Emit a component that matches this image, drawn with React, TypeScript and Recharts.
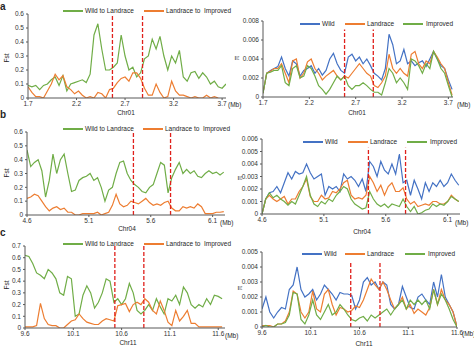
import React from "react";
import { LineChart, Line, XAxis, YAxis, ReferenceLine } from "recharts";

// ---------- colours ----------
const GREEN = "#70AD47";
const ORANGE = "#ED7D31";
const BLUE = "#4472C4";
const RED = "#E0201B";

// ---------- panel a (Chr01) ----------
const aStart = 1.7;
const aStep = 0.04;
const aXTicks = [1.7, 2.2, 2.7, 3.2, 3.7];
const aFstTicks = [0, 0.1, 0.2, 0.3, 0.4, 0.5, 0.6];
const aPiTicks = [0, 0.002, 0.004, 0.006, 0.008];
const aCutsFst = [2.57, 2.88];
const aCutsPi = [2.58, 2.89];
const aFstWildLand = [0.09, 0.08, 0.09, 0.06, 0.09, 0.10, 0.13, 0.15, 0.09, 0.16, 0.05, 0.10, 0.11, 0.12, 0.13, 0.11, 0.17, 0.45, 0.53, 0.35, 0.20, 0.20, 0.22, 0.25, 0.45, 0.30, 0.20, 0.22, 0.15, 0.18, 0.28, 0.30, 0.42, 0.35, 0.44, 0.30, 0.20, 0.30, 0.25, 0.34, 0.15, 0.12, 0.18, 0.19, 0.14, 0.18, 0.15, 0.10, 0.12, 0.08, 0.07, 0.10];
const aFstLandImp = [0.08, 0.04, 0.01, 0.01, 0.0, 0.05, 0.10, 0.17, 0.13, 0.16, 0.08, 0.06, 0.03, 0.05, 0.02, 0.0, 0.01, 0.0, 0.04, 0.03, 0.0, 0.06, 0.07, 0.11, 0.14, 0.15, 0.12, 0.18, 0.18, 0.14, 0.07, 0.02, 0.02, 0.10, 0.04, 0.0, 0.01, 0.12, 0.05, 0.02, 0.02, 0.01, 0.0, 0.01, 0.0, 0.0, 0.02, 0.0, 0.01, 0.0, null, null];
const aPiWild = [0.0004, 0.0025, 0.0028, 0.003, 0.0032, 0.0042, 0.003, 0.0022, 0.0038, 0.0035, 0.0022, 0.0028, 0.003, 0.0033, 0.0025, 0.003, 0.0023, 0.0028, 0.004, 0.0046, 0.0035, 0.0028, 0.0025, 0.0042, 0.0045, 0.0038, 0.0042, 0.0035, 0.004, 0.0033, 0.0025, 0.0022, 0.0018, 0.003, 0.0066, 0.0055, 0.0035, 0.0038, 0.005, 0.0035, 0.0038, 0.0033, 0.0036, 0.0038, 0.0032, 0.004, 0.0048, 0.004, 0.0033, 0.003, 0.0018, 0.0008];
const aPiLand = [0.0004, 0.0025, 0.0027, 0.003, 0.003, 0.0035, 0.0025, 0.0015, 0.0038, 0.004, 0.002, 0.0025, 0.0037, 0.004, 0.003, 0.0025, 0.0018, 0.0022, 0.0025, 0.0028, 0.0022, 0.0018, 0.0022, 0.002, 0.0025, 0.003, 0.0035, 0.003, 0.0025, 0.0022, 0.0012, 0.001, 0.0015, 0.0022, 0.0045, 0.003, 0.0025, 0.003, 0.0025, 0.0022, 0.0045, 0.0048, 0.0035, 0.003, 0.0038, 0.0035, 0.0048, 0.0042, 0.0035, 0.003, 0.0015, 0.0002];
const aPiImp = [0.0004, 0.0025, 0.0026, 0.0028, 0.0028, 0.0033, 0.0015, 0.0012, 0.003, 0.0033, 0.002, 0.0022, 0.0033, 0.003, 0.0022, 0.0012, 0.0008, 0.0003, 0.0008, 0.0015, 0.0022, 0.0018, 0.0022, 0.0012, 0.0008, 0.0012, 0.0012, 0.0015, 0.0012, 0.0008, 0.0005, 0.0005, 0.0002, 0.0015, 0.003, 0.0025, 0.0015, 0.002, 0.0015, 0.0008, 0.004, 0.0038, 0.0033, 0.0025, 0.0035, 0.003, 0.0048, 0.004, 0.003, 0.0025, 0.0012, 0.0];

// ---------- panel b (Chr04) ----------
const bStart = 4.6;
const bStep = 0.03;
const bXTicks = [4.6, 5.1, 5.6, 6.1];
const bFstTicks = [0, 0.1, 0.2, 0.3, 0.4, 0.5, 0.6];
const bPiTicks = [0, 0.001, 0.002, 0.003, 0.004, 0.005, 0.006];
const bCuts = [5.46, 5.76];
const bFstWildLand = [0.47, 0.35, 0.38, 0.40, 0.32, 0.13, 0.25, 0.44, 0.30, 0.40, 0.44, 0.30, 0.17, 0.18, 0.25, 0.27, 0.28, 0.30, 0.25, 0.27, 0.20, 0.10, 0.18, 0.20, 0.30, 0.38, 0.39, 0.30, 0.25, 0.22, 0.20, 0.17, 0.16, 0.20, 0.22, 0.30, 0.38, 0.36, 0.16, 0.27, 0.33, 0.38, 0.30, 0.33, 0.30, 0.32, 0.28, 0.27, 0.30, 0.32, 0.30, 0.31, 0.29, 0.31];
const bFstLandImp = [0.12, 0.13, 0.15, 0.14, 0.10, 0.06, 0.03, 0.05, 0.06, 0.04, 0.05, 0.02, 0.02, 0.0, 0.0, 0.01, 0.01, 0.01, 0.01, 0.02, 0.0, 0.01, 0.02, 0.07, 0.15, 0.08, 0.06, 0.07, 0.10, 0.09, 0.08, 0.10, 0.12, 0.09, 0.07, 0.08, 0.07, 0.09, 0.10, 0.05, 0.03, 0.03, 0.06, 0.05, 0.06, 0.05, 0.08, 0.06, 0.01, 0.01, 0.01, 0.02, 0.02, 0.025];
const bPiWild = [0.0, 0.0012, 0.0017, 0.0018, 0.0022, 0.0017, 0.0025, 0.0033, 0.0028, 0.0034, 0.0032, 0.0033, 0.004, 0.0033, 0.0028, 0.003, 0.0032, 0.0015, 0.0022, 0.002, 0.0022, 0.0018, 0.0032, 0.0028, 0.003, 0.0027, 0.0022, 0.0028, 0.0018, 0.0042, 0.0038, 0.003, 0.0042, 0.0035, 0.0032, 0.004, 0.0032, 0.0048, 0.0025, 0.0027, 0.0015, 0.0027, 0.002, 0.0012, 0.0025, 0.0018, 0.0025, 0.0022, 0.0027, 0.0022, 0.0025, 0.0032, 0.0027, 0.0023];
const bPiLand = [0.0, 0.0012, 0.0015, 0.0012, 0.001, 0.0012, 0.0014, 0.0008, 0.0012, 0.0012, 0.0018, 0.0022, 0.0028, 0.0014, 0.001, 0.001, 0.0015, 0.0012, 0.0013, 0.0018, 0.0017, 0.002, 0.0025, 0.0027, 0.0015, 0.0012, 0.0013, 0.0012, 0.0015, 0.003, 0.0025, 0.0018, 0.0023, 0.0015, 0.0022, 0.0025, 0.0018, 0.0018, 0.0021, 0.0012, 0.0008, 0.001, 0.0006, 0.0007, 0.0008, 0.0007, 0.001, 0.001, 0.0008, 0.0008, 0.001, 0.0015, 0.0012, 0.001];
const bPiImp = [0.0, 0.0012, 0.0017, 0.0013, 0.0015, 0.0012, 0.001, 0.0007, 0.001, 0.0008, 0.0015, 0.0022, 0.003, 0.0015, 0.0008, 0.0006, 0.001, 0.0008, 0.0012, 0.001, 0.0015, 0.0018, 0.0022, 0.002, 0.0012, 0.0008, 0.0006, 0.0004, 0.0005, 0.0018, 0.0012, 0.0008, 0.0006, 0.0008, 0.0005, 0.0008, 0.0007, 0.0006, 0.0012, 0.0006, 0.0002, 0.0006, 0.0, 0.0001, 0.0003, 0.0004, 0.0008, 0.0006, 0.0008, 0.0007, 0.001, 0.0014, 0.0012, 0.001];

// ---------- panel c (Chr11) ----------
const cStart = 9.6;
const cStep = 0.04;
const cXTicks = [9.6, 10.1, 10.6, 11.1, 11.6];
const cFstTicks = [0, 0.1, 0.2, 0.3, 0.4, 0.5, 0.6, 0.7];
const cPiTicks = [0, 0.001, 0.002, 0.003, 0.004, 0.005];
const cCutsFst = [10.53, 10.83];
const cCutsPi = [10.51, 10.81];
const cFstWildLand = [0.62, 0.61, 0.55, 0.47, 0.45, 0.42, 0.50, 0.47, 0.42, 0.30, 0.28, 0.44, 0.42, 0.10, 0.12, 0.28, 0.36, 0.30, 0.17, 0.22, 0.30, 0.42, 0.40, 0.22, 0.25, 0.20, 0.25, 0.38, 0.30, 0.15, 0.12, 0.15, 0.20, 0.15, 0.25, 0.18, 0.12, 0.25, 0.23, 0.28, 0.20, 0.35, 0.30, 0.20, 0.17, 0.20, 0.18, 0.25, 0.20, 0.28, 0.27, 0.25];
const cFstLandImp = [0.01, 0.01, 0.01, 0.02, 0.21, 0.08, 0.03, 0.02, 0.02, 0.0, 0.0, 0.03, 0.06, 0.07, 0.12, 0.08, 0.05, 0.04, 0.03, 0.03, 0.06, 0.08, 0.07, 0.06, 0.19, 0.20, 0.21, 0.14, 0.20, 0.22, 0.20, 0.25, 0.22, 0.15, 0.12, 0.23, 0.15, 0.05, 0.02, 0.15, 0.06, 0.10, 0.15, 0.04, 0.04, 0.01, 0.01, 0.01, 0.01, 0.01, 0.01, 0.01];
const cPiWild = [0.0012, 0.002, 0.001, 0.0006, 0.001, 0.0013, 0.0012, 0.0025, 0.0028, 0.004, 0.0025, 0.002, 0.0022, 0.0025, 0.0018, 0.0022, 0.0028, 0.0025, 0.0022, 0.0018, 0.0023, 0.0022, 0.0022, 0.0021, 0.0012, 0.0018, 0.003, 0.0033, 0.0028, 0.003, 0.0025, 0.003, 0.0028, 0.0015, 0.0012, 0.0015, 0.0027, 0.002, 0.0013, 0.0012, 0.002, 0.0022, 0.0018, 0.0015, 0.003, 0.002, 0.0035, 0.002, 0.0015, 0.001, 0.0];
const cPiLand = [0.0001, 0.0001, 0.0001, 0.0, 0.0002, 0.0002, 0.0004, 0.001, 0.0024, 0.0022, 0.001, 0.0006, 0.001, 0.0024, 0.0012, 0.001, 0.0022, 0.0025, 0.0015, 0.0008, 0.0013, 0.0012, 0.001, 0.0011, 0.0014, 0.0013, 0.0018, 0.0025, 0.0032, 0.0028, 0.0025, 0.003, 0.0025, 0.0018, 0.0012, 0.0015, 0.002, 0.0012, 0.0015, 0.0009, 0.0012, 0.001, 0.0008, 0.0013, 0.0025, 0.0015, 0.0025, 0.0018, 0.0015, 0.001, 0.0];
const cPiImp = [0.0, 0.0001, 0.0, 0.0, 0.0002, 0.0002, 0.0003, 0.0008, 0.0023, 0.0022, 0.0005, 0.0002, 0.0008, 0.0018, 0.0008, 0.0005, 0.001, 0.0015, 0.0008, 0.001, 0.0015, 0.0012, 0.0008, 0.0005, 0.0004, 0.0006, 0.0007, 0.0004, 0.0008, 0.0006, 0.0008, 0.001, 0.0012, 0.0008, 0.0012, 0.0015, 0.0018, 0.0012, 0.0018, 0.0015, 0.0018, 0.0015, 0.0018, 0.0012, 0.0025, 0.0015, 0.0022, 0.0018, 0.0012, 0.0005, 0.0];

// ---------- helpers ----------
type S = { color: string; values: (number | null)[] };
type PanelProps = {
  px0: number; px1: number; py0: number; py1: number;
  xDomain: [number, number]; xTicks: number[];
  yDomain: [number, number]; yTicks: number[];
  start: number; step: number;
  series: S[]; cuts: number[]; cutTop?: number;
};

const YW = 30, XH = 22, MT = 20, MR = 20;
const FONT = 6.5;
const AXIS = "#595959";

function Panel(p: PanelProps) {
  const n = p.series[0].values.length;
  const data = Array.from({ length: n }, (_, i) => {
    const row: any = { x: +(p.start + i * p.step).toFixed(3) };
    p.series.forEach((s, k) => { row["s" + k] = s.values[i]; });
    return row;
  });
  const w = p.px1 - p.px0 + YW + MR;
  const h = p.py1 - p.py0 + MT + XH;
  return (
    <div style={{ position: "absolute", left: p.px0 - YW, top: p.py0 - MT }}>
      <LineChart width={w} height={h} data={data} margin={{ top: MT, right: MR, left: 0, bottom: 0 }}>
        <XAxis dataKey="x" type="number" domain={p.xDomain} ticks={p.xTicks} interval={0}
          allowDataOverflow height={XH} stroke={AXIS} tickSize={2} tickMargin={1.5}
          tick={{ fontSize: FONT, fill: "#333" }} />
        <YAxis type="number" domain={p.yDomain} ticks={p.yTicks} interval={0}
          allowDataOverflow width={YW} stroke={AXIS} tickSize={2} tickMargin={2}
          tick={{ fontSize: FONT, fill: "#333" }} />
        {p.series.map((s, k) => (
          <Line key={k} dataKey={"s" + k} type="linear" stroke={s.color} strokeWidth={1.2}
            dot={false} activeDot={false} isAnimationActive={false} connectNulls={false} />
        ))}
        {p.cuts.map((c, k) =>
          p.cutTop !== undefined ? (
            <ReferenceLine key={"c" + k} segment={[{ x: c, y: 0 }, { x: c, y: p.cutTop }]}
              stroke={RED} strokeWidth={1.3} strokeDasharray="4 2" />
          ) : (
            <ReferenceLine key={"c" + k} x={c} stroke={RED} strokeWidth={1.3} strokeDasharray="4 2" />
          )
        )}
      </LineChart>
    </div>
  );
}

const Txt = ({ x, y, children, center = false, rot = false, size = FONT, bold = false }:
  { x: number; y: number; children: any; center?: boolean; rot?: boolean; size?: number; bold?: boolean }) => (
  <div style={{
    position: "absolute", left: x, top: y, fontSize: size, lineHeight: 1,
    fontWeight: bold ? "bold" : "normal", whiteSpace: "pre", color: "#262626",
    transform: `translate(${center || rot ? "-50%" : "0"}, -50%)${rot ? " rotate(-90deg)" : ""}`,
  }}>{children}</div>
);

const Swatch = ({ x1, x2, y, color }: { x1: number; x2: number; y: number; color: string }) => (
  <div style={{ position: "absolute", left: x1, top: Math.round(y) - 1, width: x2 - x1, height: 1.6, background: color }} />
);

function FstLegend({ y, o = 0 }: { y: number; o?: number }) {
  return (
    <>
      <Swatch x1={63} x2={83} y={y} color={GREEN} />
      <Txt x={85} y={y}>Wild to Landrace</Txt>
      <Swatch x1={143 + o} x2={163 + o} y={y} color={ORANGE} />
      <Txt x={165 + o} y={y}>{"Landrace to  Improved"}</Txt>
    </>
  );
}

function PiLegend({ y, xs }: { y: number; xs: number[] }) {
  return (
    <>
      <Swatch x1={xs[0]} x2={xs[0] + 20} y={y} color={BLUE} />
      <Txt x={xs[0] + 22} y={y}>Wild</Txt>
      <Swatch x1={xs[1]} x2={xs[1] + 20} y={y} color={ORANGE} />
      <Txt x={xs[1] + 22} y={y}>Landrace</Txt>
      <Swatch x1={xs[2]} x2={xs[2] + 20} y={y} color={GREEN} />
      <Txt x={xs[2] + 23} y={y}>Improved</Txt>
    </>
  );
}

export default function App() {
  return (
    <div style={{
      position: "absolute", left: 0, top: 0, width: 474, height: 350, background: "#fff",
      overflow: "hidden", fontFamily: "'Liberation Sans', Arial, sans-serif",
    }}>
      {/* row a */}
      <Panel px0={28} px1={226} py0={14} py1={98} xDomain={[1.7, 3.74]} xTicks={aXTicks}
        yDomain={[0, 0.6]} yTicks={aFstTicks} start={aStart} step={aStep}
        series={[{ color: GREEN, values: aFstWildLand }, { color: ORANGE, values: aFstLandImp }]}
        cuts={aCutsFst} />
      <Panel px0={263} px1={453} py0={21} py1={97} xDomain={[1.7, 3.75]} xTicks={aXTicks}
        yDomain={[0, 0.008]} yTicks={aPiTicks} start={aStart} step={aStep}
        series={[{ color: BLUE, values: aPiWild }, { color: ORANGE, values: aPiLand }, { color: GREEN, values: aPiImp }]}
        cuts={aCutsPi} cutTop={0.0071} />

      {/* row b */}
      <Panel px0={27} px1={225} py0={132} py1={215} xDomain={[4.6, 6.2]} xTicks={bXTicks}
        yDomain={[0, 0.6]} yTicks={bFstTicks} start={bStart} step={bStep}
        series={[{ color: GREEN, values: bFstWildLand }, { color: ORANGE, values: bFstLandImp }]}
        cuts={bCuts} />
      <Panel px0={262} px1={460} py0={139} py1={214} xDomain={[4.6, 6.2]} xTicks={bXTicks}
        yDomain={[0, 0.006]} yTicks={bPiTicks} start={bStart} step={bStep}
        series={[{ color: BLUE, values: bPiWild }, { color: ORANGE, values: bPiLand }, { color: GREEN, values: bPiImp }]}
        cuts={bCuts} cutTop={0.0053} />

      {/* row c */}
      <Panel px0={25} px1={225} py0={246} py1={328} xDomain={[9.6, 11.67]} xTicks={cXTicks}
        yDomain={[0, 0.7]} yTicks={cFstTicks} start={cStart} step={cStep}
        series={[{ color: GREEN, values: cFstWildLand }, { color: ORANGE, values: cFstLandImp }]}
        cuts={cCutsFst} />
      <Panel px0={262} px1={457} py0={252} py1={327} xDomain={[9.6, 11.6]} xTicks={cXTicks}
        yDomain={[0, 0.005]} yTicks={cPiTicks} start={cStart} step={cStep}
        series={[{ color: BLUE, values: cPiWild }, { color: ORANGE, values: cPiLand }, { color: GREEN, values: cPiImp }]}
        cuts={cCutsPi} cutTop={0.0044} />

      {/* legends */}
      <FstLegend y={11} o={1} />
      <PiLegend y={24} xs={[300, 345, 403]} />
      <FstLegend y={129} />
      <PiLegend y={142} xs={[303, 348, 407]} />
      <FstLegend y={244} o={1} />
      <PiLegend y={254} xs={[302, 345, 405]} />

      {/* panel letters */}
      <Txt x={0} y={7} size={10} bold>a</Txt>
      <Txt x={0} y={115} size={10} bold>b</Txt>
      <Txt x={0} y={233} size={10} bold>c</Txt>

      {/* y titles */}
      <Txt x={7} y={58} rot>Fst</Txt>
      <Txt x={7} y={173} rot>Fst</Txt>
      <Txt x={7} y={285} rot>Fst</Txt>
      <Txt x={237} y={58} rot>π</Txt>
      <Txt x={240} y={178} rot>π</Txt>
      <Txt x={240} y={288} rot>π</Txt>

      {/* x titles */}
      <Txt x={126} y={113} center>Chr01</Txt>
      <Txt x={357} y={113} center>Chr01</Txt>
      <Txt x={127} y={228.5} center>Chr04</Txt>
      <Txt x={362} y={231.5} center>Chr04</Txt>
      <Txt x={128} y={342.5} center>Chr11</Txt>
      <Txt x={364} y={344} center>Chr11</Txt>

      {/* units */}
      <Txt x={228} y={104.5}>(Mb)</Txt>
      <Txt x={457} y={104.5}>(Mb)</Txt>
      <Txt x={220} y={222.5}>(Mb)</Txt>
      <Txt x={455} y={222.5}>(Mb)</Txt>
      <Txt x={225} y={336}>(Mb)</Txt>
      <Txt x={462} y={334}>(Mb)</Txt>
    </div>
  );
}
